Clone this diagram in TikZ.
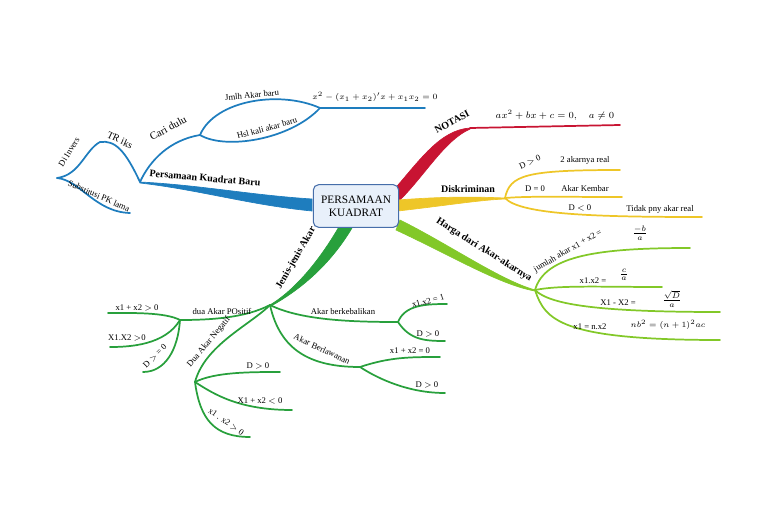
\documentclass[tikz,border=0pt]{standalone}
\usepackage{amsmath}
\usepackage{fontspec}
\setmainfont{Liberation Serif}
\definecolor{cblue}{RGB}{30,125,190}
\definecolor{cred}{RGB}{200,20,50}
\definecolor{cyel}{RGB}{238,198,40}
\definecolor{clg}{RGB}{130,200,40}
\definecolor{cdg}{RGB}{40,160,60}
\begin{document}
\begin{tikzpicture}[x=0.75pt,y=-0.75pt,
  lbl/.style={font=\fontsize{6.5}{7}\selectfont,inner sep=1pt},
  blbl/.style={font=\bfseries\fontsize{7.5}{8}\selectfont,inner sep=1pt},
  br/.style={line width=1.3pt,line cap=round},
  blueb/.style={br,draw=cblue,fill=cblue},
  redb/.style={br,draw=cred,fill=cred},
  yelb/.style={br,draw=cyel,fill=cyel},
  lgb/.style={br,draw=clg,fill=clg},
  dgb/.style={br,draw=cdg,fill=cdg},
  bl/.style={br,draw=cblue},
  yl/.style={br,draw=cyel},
  gl/.style={br,draw=clg},
  dl/.style={br,draw=cdg}]
\useasboundingbox (0,0) rectangle (768,532);
% hub coordinates
\coordinate (bh) at (140,182);
\coordinate (cd) at (200,135);
\coordinate (fx) at (320,108);
\coordinate (fxe) at (425,108);
\coordinate (tr) at (100,142);
\coordinate (di) at (57,178);
\coordinate (sb) at (130,213);
\coordinate (rh) at (470,128);
\coordinate (re) at (620,125);
\coordinate (yh) at (505,198);
\coordinate (y1) at (620,170);
\coordinate (y2) at (622,197);
\coordinate (y3) at (702,217);
\coordinate (gh) at (535,290);
\coordinate (g1) at (690,248);
\coordinate (g2) at (662,287);
\coordinate (g3) at (720,312);
\coordinate (g4) at (720,340);
\coordinate (dh) at (270,305);
\coordinate (pa) at (180,320);
\coordinate (p1) at (108,313);
\coordinate (p2) at (110,347);
\coordinate (p3) at (143,372);
\coordinate (na) at (195,382);
\coordinate (n1) at (280,372);
\coordinate (n2) at (292,410);
\coordinate (n3) at (250,437);
\coordinate (kb) at (398,322);
\coordinate (k1) at (447,304);
\coordinate (k2) at (445,341);
\coordinate (blh) at (360,367);
\coordinate (l1) at (440,357);
\coordinate (l2) at (445,393);
% main thick branches
\filldraw[blueb,line width=0.5pt] (312,199) .. controls (250,195) and (200,185) .. (bh) -- (140,183) .. controls (200,190) and (250,205) .. (312,211) -- cycle;
\filldraw[redb,line width=0.5pt] (392,192) .. controls (420,160) and (440,130) .. (rh) -- (470,129) .. controls (445,140) and (425,175) .. (400,200) -- cycle;
\filldraw[yelb,line width=0.5pt] (398,200) .. controls (450,196) and (480,197) .. (yh) -- (505,199) .. controls (480,200) and (450,205) .. (398,211) -- cycle;
\filldraw[lgb,line width=0.5pt] (400,220) .. controls (450,245) and (500,280) .. (gh) -- (535,291) .. controls (500,285) and (450,255) .. (396,230) -- cycle;
\filldraw[dgb,line width=0.5pt] (340,225) .. controls (320,260) and (295,290) .. (dh) -- (271,306) .. controls (300,290) and (330,265) .. (352,228) -- cycle;
% blue
\draw[bl] (bh) .. controls (150,160) and (170,140) .. (cd);
\draw[bl] (cd) .. controls (215,100) and (280,90) .. (fx);
\draw[bl] (cd) .. controls (225,150) and (290,140) .. (fx);
\draw[bl] (fx) -- (fxe);
\draw[bl] (bh) .. controls (125,150) and (115,140) .. (tr);
\draw[bl] (tr) .. controls (85,150) and (80,175) .. (di);
\draw[bl] (di) .. controls (80,180) and (95,212) .. (sb);
% red
\draw[br,draw=cred] (rh) -- (re);
% yellow
\draw[yl] (yh) .. controls (510,175) and (525,170) .. (y1);
\draw[yl] (yh) .. controls (530,196) and (560,197) .. (y2);
\draw[yl] (yh) .. controls (520,215) and (600,217) .. (y3);
% light green
\draw[gl] (gh) .. controls (545,255) and (600,248) .. (g1);
\draw[gl] (gh) .. controls (560,285) and (600,287) .. (g2);
\draw[gl] (gh) .. controls (550,305) and (600,312) .. (g3);
\draw[gl] (gh) .. controls (545,320) and (560,340) .. (g4);
% dark green
\draw[dl] (dh) .. controls (245,318) and (210,320) .. (pa);
\draw[dl] (pa) .. controls (165,312) and (130,313) .. (p1);
\draw[dl] (pa) .. controls (165,345) and (130,347) .. (p2);
\draw[dl] (pa) .. controls (178,350) and (165,372) .. (p3);
\draw[dl] (dh) .. controls (250,325) and (205,345) .. (na);
\draw[dl] (na) .. controls (215,372) and (250,372) .. (n1);
\draw[dl] (na) .. controls (215,395) and (240,410) .. (n2);
\draw[dl] (na) .. controls (200,420) and (215,437) .. (n3);
\draw[dl] (dh) .. controls (300,320) and (350,322) .. (kb);
\draw[dl] (kb) .. controls (405,305) and (425,304) .. (k1);
\draw[dl] (kb) .. controls (410,340) and (425,341) .. (k2);
\draw[dl] (dh) .. controls (280,350) and (310,367) .. (blh);
\draw[dl] (blh) .. controls (390,357) and (410,357) .. (l1);
\draw[dl] (blh) .. controls (380,380) and (410,393) .. (l2);
% centre
\node[draw={rgb,255:red,70;green,110;blue,170},fill={rgb,255:red,232;green,240;blue,250},line width=0.8pt,rounded corners=4pt,minimum width=64pt,minimum height=32pt,align=center,font=\fontsize{8.5}{10}\selectfont] (c) at (356,206) {PERSAMAAN\\KUADRAT};
% blue labels
\node[blbl,rotate=-5] (pkb) at (205,178) {Persamaan Kuadrat Baru};
\node[lbl,rotate=28,font=\fontsize{8}{9}\selectfont] (cdl) at (168,128) {Cari dulu};
\node[lbl,rotate=5] (jab) at (252,95) {Jmlh Akar baru};
\node[lbl,rotate=15] (hkb) at (267,128) {Hsl kali akar baru};
\node[lbl,font=\fontsize{6.5}{8}\selectfont] (f1) at (375,97) {$x^2-(x_1+x_2)'x+x_1x_2=0$};
\node[lbl,rotate=-25,font=\fontsize{7.5}{8}\selectfont] (tri) at (120,140) {TR iks};
\node[lbl,rotate=58] (div) at (69,152) {Di Invers};
\node[lbl,rotate=-24] (sub) at (99,196) {Substitusi PK lama};
% red labels
\node[blbl,rotate=28] (nt) at (452,122) {NOTASI};
\node[lbl,font=\fontsize{7.5}{9}\selectfont] (f2) at (555,115) {$ax^2+bx+c=0,\quad a\neq0$};
% yellow labels
\node[blbl] (dk) at (468,189) {Diskriminan};
\node[lbl,rotate=25] (d1) at (530,162) {D $>$ 0};
\node[lbl] (d1t) at (585,160) {2 akarnya real};
\node[lbl] (d2) at (535,189) {D = 0};
\node[lbl] (d2t) at (585,189) {Akar Kembar};
\node[lbl] (d3) at (580,208) {D $<$ 0};
\node[lbl] (d3t) at (660,209) {Tidak pny akar real};
% light green labels
\node[blbl,rotate=-32] (hg) at (484,250) {Harga dari Akar-akarnya};
\node[lbl,rotate=30] (ja) at (568,251) {jumlah akar x1 + x2 =};
\node[lbl,font=\fontsize{8}{9}\selectfont] (fb) at (640,233) {$\frac{-b}{a}$};
\node[lbl] (xx) at (593,281) {x1.x2 =};
\node[lbl,font=\fontsize{8}{9}\selectfont] (fc) at (624,275) {$\frac{c}{a}$};
\node[lbl] (xm) at (618,303) {X1 - X2 =};
\node[lbl,font=\fontsize{8}{9}\selectfont] (fd) at (672,299) {$\frac{\sqrt{D}}{a}$};
\node[lbl] (xn) at (590,327) {x1 = n.x2};
\node[lbl,font=\fontsize{6}{7}\selectfont] (fn) at (668,325) {$nb^2=(n+1)^2ac$};
% dark green labels
\node[blbl,rotate=60] (jj) at (296,258) {Jenis-jenis Akar};
\node[lbl] (dap) at (222,311) {dua Akar POsitif};
\node[lbl,rotate=50] (dan) at (209,342) {Dua Akar Negatif};
\node[lbl] (p1t) at (137,308) {x1 + x2 $>$ 0};
\node[lbl] (p2t) at (127,338) {X1.X2 $>$0};
\node[lbl,rotate=45] (p3t) at (155,356) {D $>$ = 0};
\node[lbl] (n1t) at (258,366) {D $>$ 0};
\node[lbl] (n2t) at (260,401) {X1 + x2 $<$ 0};
\node[lbl,rotate=-35] (n3t) at (226,422) {x1 . x2 $>$ 0};
\node[lbl] (akb) at (343,312) {Akar berkebalikan};
\node[lbl,rotate=15] (k1t) at (428,301) {x1.x2 = 1};
\node[lbl] (k2t) at (428,334) {D $>$ 0};
\node[lbl,rotate=-25] (abl) at (322,349) {Akar Berlawanan};
\node[lbl] (l1t) at (410,351) {x1 + x2 = 0};
\node[lbl] (l2t) at (427,385) {D $>$ 0};
\end{tikzpicture}
\end{document}
